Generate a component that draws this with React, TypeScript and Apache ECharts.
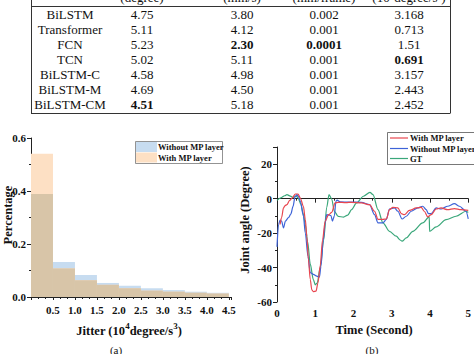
import React, { useEffect, useRef } from 'react';
import * as echarts from 'echarts';

// ---------- Table data ----------
const models = ['BiLSTM', 'Transformer', 'FCN', 'TCN', 'BiLSTM-C', 'BiLSTM-M', 'BiLSTM-CM'];
const headerUnits = ['(degree)', '(mm/s)', '(mm/frame)', '(10⁴degree/s³)'];
const colA = ['4.75', '5.11', '5.23', '5.02', '4.58', '4.69', '4.51'];
const colB = ['3.80', '4.12', '2.30', '5.11', '4.98', '4.50', '5.18'];
const colC = ['0.002', '0.001', '0.0001', '0.001', '0.001', '0.001', '0.001'];
const colD = ['3.168', '0.713', '1.51', '0.691', '3.157', '2.443', '2.452'];
const boldCells = ['6-0', '2-1', '2-2', '3-3'];

// ---------- Histogram (a) ----------
const binStart = [0, 0.5, 1.0, 1.5, 2.0, 2.5, 3.0, 3.5, 4.0];
const binEnd = [0.5, 1.0, 1.5, 2.0, 2.5, 3.0, 3.5, 4.0, 4.5];
const withoutMP = [0.389, 0.132, 0.083, 0.053, 0.042, 0.033, 0.026, 0.02, 0.016];
const withMP = [0.541, 0.108, 0.063, 0.046, 0.033, 0.024, 0.02, 0.016, 0.013];

// ---------- Joint angle (b) ----------
const tWith = [0.08, 0.12, 0.17, 0.21, 0.26, 0.33, 0.4, 0.48, 0.55, 0.61, 0.69, 0.74, 0.78, 0.82, 0.87, 0.91, 0.95, 1.02, 1.07, 1.13, 1.19, 1.26, 1.35, 1.43, 1.52, 1.6, 1.8, 1.95, 2.21, 2.42, 2.55, 2.64, 2.77, 2.86, 2.94, 3.03, 3.16, 3.25, 3.33, 3.46, 3.64, 3.77, 3.85, 3.94, 4.03, 4.16, 4.29, 4.46, 4.64, 4.81, 5.0];
const vWith = [-15, -11, -5.4, -4, -3.5, -1, 0.5, 2.7, 2.7, 0.4, -4.5, -12, -22, -35, -47, -53, -54, -53.7, -49, -39, -24, -13, -9.3, -8, -2.5, -2.1, -2.3, -2.1, -2.5, -3.5, -7.3, -12, -12, -11.8, -6.4, -5, -5.4, -8.7, -9.3, -6.8, -5.4, -5, -7.3, -10.6, -9.3, -6, -5.4, -6.4, -5.8, -6.4, -6.8];

const tWithout = [0.0, 0.04, 0.08, 0.12, 0.17, 0.22, 0.3, 0.36, 0.42, 0.47, 0.52, 0.57, 0.61, 0.69, 0.74, 0.81, 0.87, 0.95, 1.04, 1.11, 1.15, 1.21, 1.26, 1.3, 1.35, 1.41, 1.45, 1.5, 1.54, 1.57, 1.65, 1.9, 2.21, 2.42, 2.55, 2.64, 2.77, 2.86, 2.94, 3.07, 3.16, 3.27, 3.38, 3.51, 3.68, 3.81, 3.9, 3.96, 4.03, 4.16, 4.29, 4.46, 4.64, 4.77, 4.94, 5.0];
const vWithout = [-28, -15, -12.5, -13, -17, -13, -11, -9, -4.5, 1, 2.3, 1, -1.5, -10, -20, -33.5, -43, -44, -45, -45.5, -39, -24, -14, -9.3, -9.5, -9.8, -13, -10, -1.5, -0.8, -1.9, -2, -2.1, -3.5, -9.3, -14, -14, -12, -6, -5.4, -7.3, -11.8, -10.2, -7.3, -5.4, -4.4, -6.4, -8.7, -8.7, -5.4, -6, -4.4, -2.9, -4.4, -7.3, -11.8];

const tGT = [0, 0.1, 0.2, 0.26, 0.35, 0.42, 0.5, 0.55, 0.62, 0.69, 0.74, 0.8, 0.87, 0.95, 1.0, 1.05, 1.13, 1.22, 1.3, 1.36, 1.43, 1.5, 1.6, 1.74, 1.85, 1.95, 2.08, 2.26, 2.43, 2.51, 2.64, 2.77, 2.94, 3.12, 3.22, 3.27, 3.38, 3.55, 3.81, 3.98, 3.99, 4.16, 4.42, 4.68, 4.94, 5.0];
const vGT = [-1, 0.5, 1.7, 2.3, 1.5, 0.8, 1.5, 0.5, -3, -9, -15, -25, -38, -47, -50, -49, -40, -24, -5, 2.3, -0.2, -7.4, -10.3, -10.7, -9.5, -6.4, -2.5, 1.4, 3.7, 2.3, -6.4, -14, -19, -21.8, -24, -24.7, -22.8, -19, -14.1, -10.6, -19, -16.4, -12.2, -10.2, -7.3, -8];

const SERIF = 'Liberation Serif, serif';
const RED = '#e8464f';
const BLUE = '#3d63d8';
const GREEN = '#3aa77a';
const C_BLUE = '#c7dcf0';
const C_ORANGE = '#fde0c4';
const C_OVER = '#d8c5a8';

const histItem = (color: string) => (params: any, api: any) => {
  const p0 = api.coord([api.value(0), api.value(2)]);
  const p1 = api.coord([api.value(1), 0]);
  return {
    type: 'rect',
    shape: { x: p0[0], y: p0[1], width: p1[0] - p0[0], height: p1[1] - p0[1] },
    style: { fill: color },
  };
};

const txt = (x: number, y: number, text: string, size: number, bold: boolean, extra: any = {}) => ({
  type: 'text', x, y, ...extra,
  style: { text, fontFamily: SERIF, fontSize: size, fontWeight: bold ? 'bold' : 'normal', fill: '#111', align: extra.align || 'center', verticalAlign: 'middle' },
});

export default function App() {
  const ref = useRef<HTMLDivElement>(null);
  useEffect(() => {
    document.body.style.margin = '0';
    const chart = echarts.init(ref.current!, undefined, { renderer: 'svg' });

    const cols = [colA, colB, colC, colD];
    const colX = [142, 242, 324, 409];
    const tableTexts: any[] = [];
    models.forEach((m, r) => {
      const y = 14 + r * 15;
      tableTexts.push(txt(70, y, m, 13, false));
      cols.forEach((c, ci) => {
        const bold = boldCells.includes(`${r}-${ci}`);
        tableTexts.push(txt(colX[ci], y, c[r], 13, bold));
      });
    });
    headerUnits.forEach((h, ci) => {
      tableTexts.push(txt(colX[ci], -3, h, 13, false));
    });

    const lineStyleT = { stroke: '#333', lineWidth: 1 };
    const graphic: any[] = [
      ...tableTexts,
      { type: 'line', shape: { x1: 31, y1: 6.5, x2: 450, y2: 6.5 }, style: lineStyleT },
      { type: 'line', shape: { x1: 31, y1: 113.5, x2: 450, y2: 113.5 }, style: lineStyleT },
      { type: 'line', shape: { x1: 31.5, y1: 0, x2: 31.5, y2: 113.5 }, style: lineStyleT },
      { type: 'line', shape: { x1: 450.5, y1: 0, x2: 450.5, y2: 113.5 }, style: lineStyleT },
      // legend (a)
      { type: 'rect', shape: { x: 135.5, y: 141.5, width: 87, height: 22 }, style: { fill: '#fff', stroke: '#777', lineWidth: 0.8 }, z: 100 },
      { type: 'rect', shape: { x: 136, y: 142, width: 21, height: 10 }, style: { fill: C_BLUE }, z: 101 },
      { type: 'rect', shape: { x: 136, y: 152.5, width: 21, height: 10 }, style: { fill: C_ORANGE }, z: 101 },
      txt(158, 147, 'Without MP layer', 8.5, true, { align: 'left', z: 101 }),
      txt(158, 157.5, 'With MP layer', 8.5, true, { align: 'left', z: 101 }),
      // legend (b)
      { type: 'rect', shape: { x: 387.5, y: 132.5, width: 90, height: 32 }, style: { fill: '#fff', stroke: '#555', lineWidth: 0.8 }, z: 100 },
      { type: 'line', shape: { x1: 390, y1: 138, x2: 408, y2: 138 }, style: { stroke: RED, lineWidth: 1.2 }, z: 101 },
      { type: 'line', shape: { x1: 390, y1: 148.5, x2: 408, y2: 148.5 }, style: { stroke: BLUE, lineWidth: 1.2 }, z: 101 },
      { type: 'line', shape: { x1: 390, y1: 158.5, x2: 408, y2: 158.5 }, style: { stroke: GREEN, lineWidth: 1.2 }, z: 101 },
      txt(410, 138, 'With MP layer', 8.5, true, { align: 'left', z: 101 }),
      txt(410, 148.5, 'Without MP layer', 8.5, true, { align: 'left', z: 101 }),
      txt(410, 158.5, 'GT', 8.5, true, { align: 'left', z: 101 }),
      // titles
      txt(8, 215, 'Percentage', 12.5, true, { rotation: Math.PI / 2 }),
      {
        type: 'text', x: 129, y: 329,
        style: {
          text: '{a|Jitter (10}{s|4}{a|degree/s}{s|3}{a|)}',
          align: 'center', verticalAlign: 'middle',
          rich: {
            a: { fontFamily: SERIF, fontSize: 12.5, fontWeight: 'bold', fill: '#111', lineHeight: 16, verticalAlign: 'bottom' },
            s: { fontFamily: SERIF, fontSize: 9, fontWeight: 'bold', fill: '#111', lineHeight: 10, verticalAlign: 'top' },
          },
        },
      },
      txt(116, 350, '(a)', 11, false),
      txt(245, 220, 'Joint angle (Degree)', 12.5, true, { rotation: Math.PI / 2 }),
      txt(374, 330, 'Time (Second)', 12.5, true),
      txt(372, 350, '(b)', 11, false),
    ];

    const axisLabelStyle = { color: '#111', fontFamily: SERIF, fontWeight: 'bold' as const, fontSize: 11 };
    const axisLine = { show: true, lineStyle: { color: '#222', width: 1 } };

    const histData = (vals: number[]) => binStart.map((s, i) => [s, binEnd[i], vals[i]]);
    const overlap = withoutMP.map((v, i) => Math.min(v, withMP[i]));

    chart.setOption({
      animation: false,
      graphic,
      grid: [
        { left: 31, top: 138, width: 200, height: 159 },
        { left: 277, top: 147, width: 192, height: 155 },
      ],
      xAxis: [
        {
          gridIndex: 0, type: 'value', min: 0, max: 4.55, interval: 0.5,
          axisLine, splitLine: { show: false },
          axisTick: { show: true, length: 3, lineStyle: { color: '#222' } },
          minorTick: { show: true, splitNumber: 3, length: 2, lineStyle: { color: '#222' } },
          axisLabel: { ...axisLabelStyle, margin: 7, formatter: (v: number) => (v > 0 && Math.abs(v * 2 - Math.round(v * 2)) < 1e-6 ? v.toFixed(1) : '') },
        },
        {
          gridIndex: 1, type: 'value', min: 0, max: 5, interval: 1,
          axisLine, splitLine: { show: false },
          axisTick: { show: true, length: 4, lineStyle: { color: '#222' } },
          minorTick: { show: true, splitNumber: 2, length: 2, lineStyle: { color: '#222' } },
          axisLabel: { ...axisLabelStyle, margin: 5 },
        },
      ],
      yAxis: [
        {
          gridIndex: 0, type: 'value', min: 0, max: 0.6, interval: 0.2,
          axisLine, splitLine: { show: false },
          axisTick: { show: true, length: 4, lineStyle: { color: '#222' } },
          minorTick: { show: true, splitNumber: 2, length: 2, lineStyle: { color: '#222' } },
          axisLabel: { ...axisLabelStyle, margin: 5, formatter: (v: number) => v.toFixed(1) },
        },
        {
          gridIndex: 1, type: 'value', min: -60, max: 30, interval: 20,
          axisLine, splitLine: { show: false },
          axisTick: { show: true, length: 4, lineStyle: { color: '#222' } },
          minorTick: { show: true, splitNumber: 2, length: 2, lineStyle: { color: '#222' } },
          axisLabel: { ...axisLabelStyle, margin: 5, formatter: (v: number) => (v > 20 ? '' : String(v)) },
        },
      ],
      series: [
        { type: 'custom', name: 'Without MP layer', xAxisIndex: 0, yAxisIndex: 0, renderItem: histItem(C_BLUE), encode: { x: [0, 1], y: 2 }, data: histData(withoutMP) },
        { type: 'custom', name: 'With MP layer', xAxisIndex: 0, yAxisIndex: 0, renderItem: histItem(C_ORANGE), encode: { x: [0, 1], y: 2 }, data: histData(withMP) },
        { type: 'custom', name: 'overlap', xAxisIndex: 0, yAxisIndex: 0, renderItem: histItem(C_OVER), encode: { x: [0, 1], y: 2 }, data: histData(overlap) },
        { type: 'line', name: 'GT', xAxisIndex: 1, yAxisIndex: 1, data: tGT.map((t, i) => [t, vGT[i]]), showSymbol: false, smooth: 0.3, smoothMonotone: 'x', lineStyle: { color: GREEN, width: 1.2 } },
        { type: 'line', name: 'Without MP layer', xAxisIndex: 1, yAxisIndex: 1, data: tWithout.map((t, i) => [t, vWithout[i]]), showSymbol: false, smooth: 0.3, smoothMonotone: 'x', lineStyle: { color: BLUE, width: 1.2 } },
        { type: 'line', name: 'With MP layer', xAxisIndex: 1, yAxisIndex: 1, data: tWith.map((t, i) => [t, vWith[i]]), showSymbol: false, smooth: 0.3, smoothMonotone: 'x', lineStyle: { color: RED, width: 1.2 } },
      ],
    });
    return () => chart.dispose();
  }, []);
  return <div ref={ref} style={{ width: 474, height: 354 }} />;
}
